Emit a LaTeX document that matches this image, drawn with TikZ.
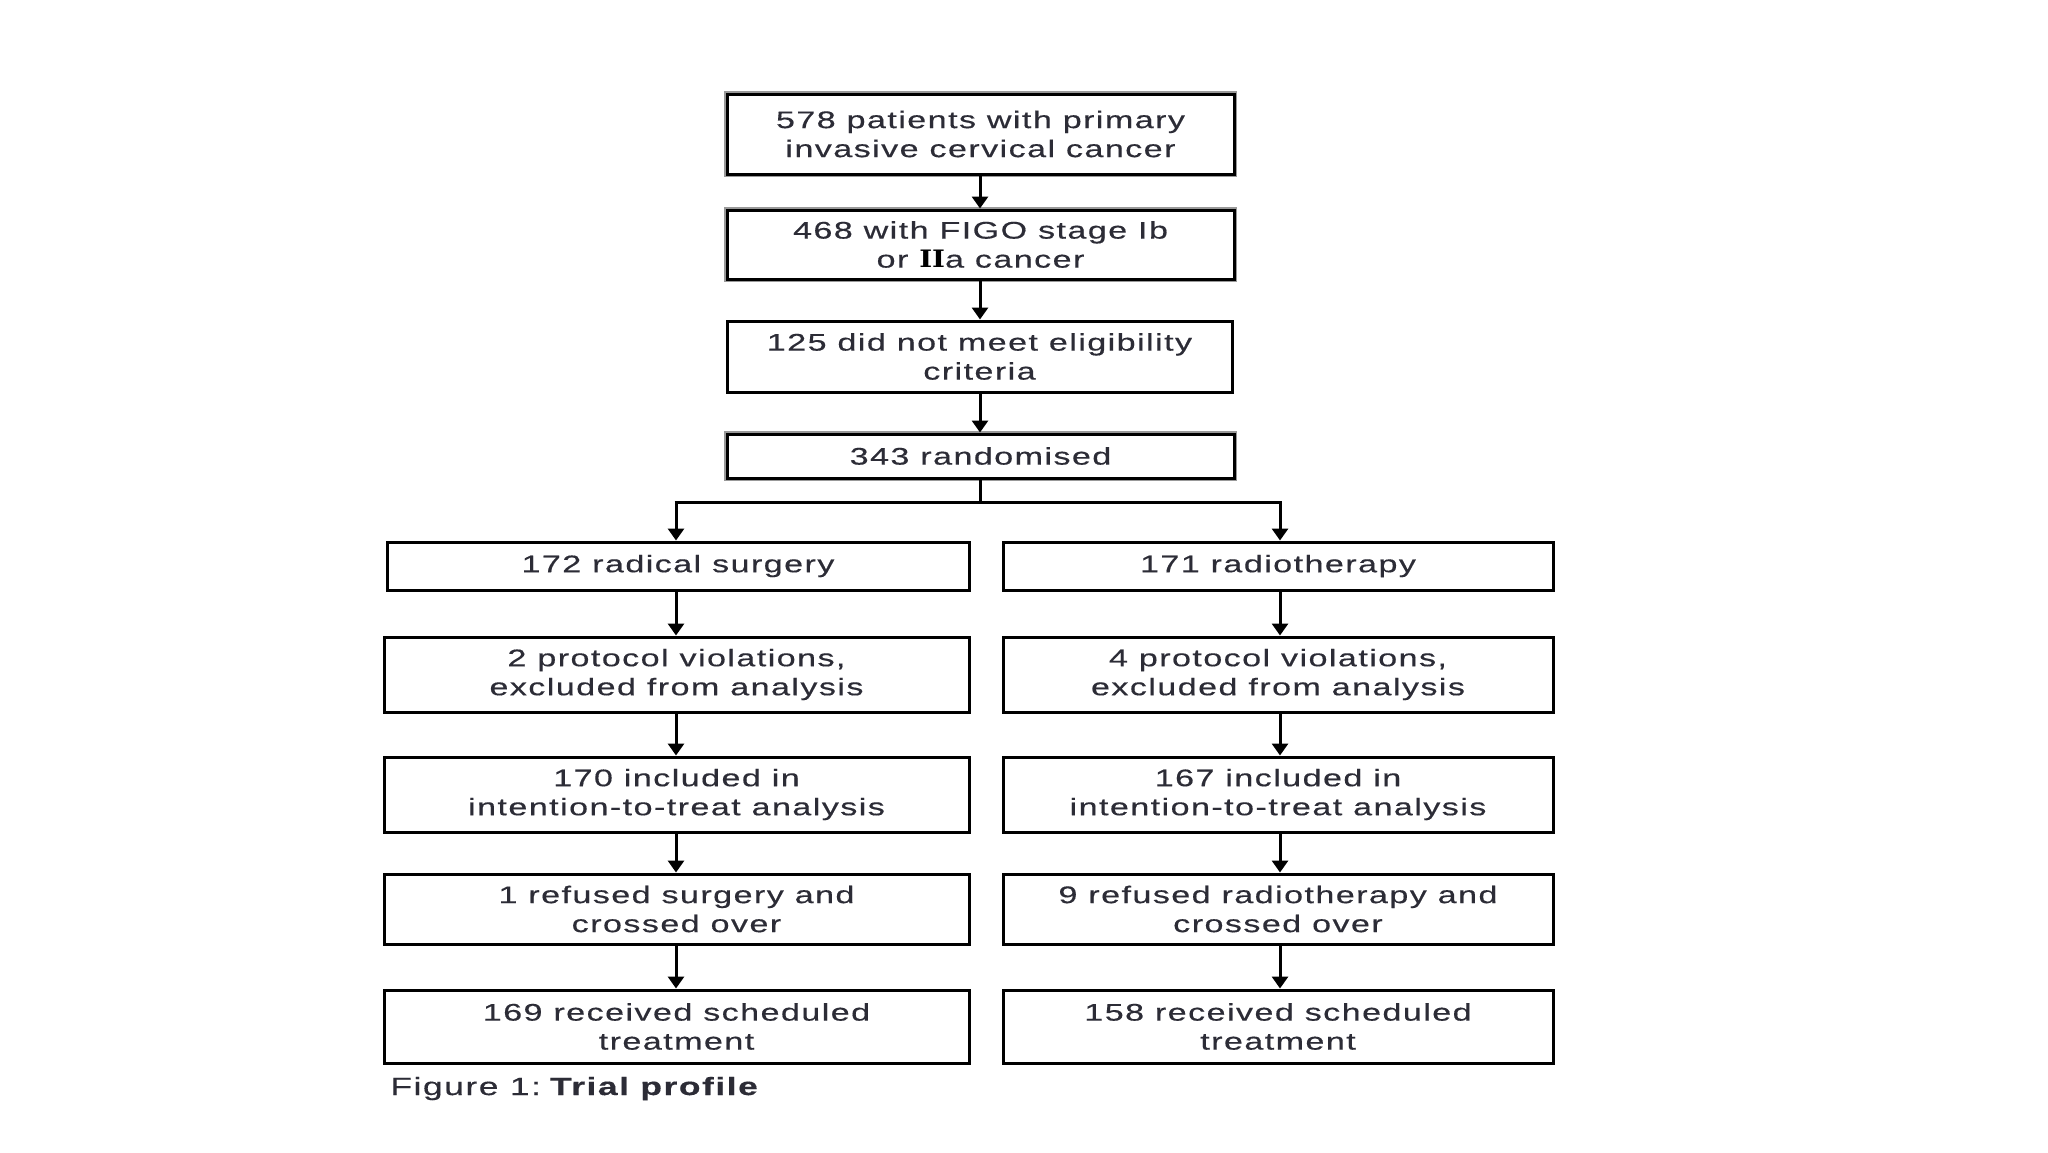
\documentclass[tikz,border=0pt]{standalone}
\usepackage{fontspec}
\setmainfont{Liberation Sans}[FakeStretch=1.42,LetterSpace=6,FakeBold=0.4]
\newfontfamily\romfont{DejaVu Serif}[FakeStretch=1.15]
\usetikzlibrary{arrows.meta}
\definecolor{txt}{HTML}{2C2C36}
\tikzset{
  box/.style={draw=black, line width=1.5pt, fill=white, inner sep=0pt, align=center,
    text=txt, font=\fontsize{12}{14.5}\selectfont},
  shadowbox/.style={box, preaction={draw=black!40, line width=3.2pt}},
  conn/.style={line width=1.5pt, -{Triangle[width=8pt,length=6pt]}},
  plain/.style={line width=1.5pt}
}
\begin{document}
\begin{tikzpicture}[x=0.5pt,y=-0.5pt]
\useasboundingbox (0,0) rectangle (2048,1152);
% top column
\node[shadowbox, minimum width=253.5pt, minimum height=40pt] (b1) at (980.5,134) {578 patients with primary\\invasive cervical cancer};
\node[shadowbox, minimum width=253.5pt, minimum height=34.5pt] (b2) at (980.5,244.5) {468 with FIGO stage Ib\\or {\romfont\bfseries\color{black}II}a cancer};
\node[box, minimum width=252.5pt, minimum height=35.5pt] (b3) at (979.5,356.5) {125 did not meet eligibility\\criteria};
\node[shadowbox, minimum width=253.5pt, minimum height=22pt] (b4) at (980.5,456) {343 randomised};
% left column
\node[box, minimum width=291pt, minimum height=24pt] (l1) at (678,566) {172 radical surgery};
\node[box, minimum width=292.5pt, minimum height=37.5pt] (l2) at (676.5,674.5) {2 protocol violations,\\excluded from analysis};
\node[box, minimum width=292.5pt, minimum height=37.5pt] (l3) at (676.5,794.5) {170 included in\\intention-to-treat analysis};
\node[box, minimum width=292.5pt, minimum height=35pt] (l4) at (676.5,909) {1 refused surgery and\\crossed over};
\node[box, minimum width=292.5pt, minimum height=36.5pt] (l5) at (676.5,1026.5) {169 received scheduled\\treatment};
% right column
\node[box, minimum width=275pt, minimum height=24pt] (r1) at (1278,566) {171 radiotherapy};
\node[box, minimum width=275pt, minimum height=37.5pt] (r2) at (1278,674.5) {4 protocol violations,\\excluded from analysis};
\node[box, minimum width=275pt, minimum height=37.5pt] (r3) at (1278,794.5) {167 included in\\intention-to-treat analysis};
\node[box, minimum width=275pt, minimum height=35pt] (r4) at (1278,909) {9 refused radiotherapy and\\crossed over};
\node[box, minimum width=275pt, minimum height=36.5pt] (r5) at (1278,1026.5) {158 received scheduled\\treatment};
% caption
\node[anchor=base west, inner sep=0pt, text=txt, font=\fontsize{12.5}{15}\selectfont] (cap) at (390,1095) {Figure 1:\hspace{0.3em}\textbf{Trial profile}};
% connector guide coordinates
\coordinate (cx) at (980,0);
\coordinate (lx) at (676,0);
\coordinate (rx) at (1280,0);
\draw[conn] (cx |- b1.south) -- (cx |- b2.north);
\draw[conn] (cx |- b2.south) -- (cx |- b3.north);
\draw[conn] (cx |- b3.south) -- (cx |- b4.north);
\coordinate (split) at (980,502);
\draw[plain] (cx |- b4.south) -- (split);
\draw[plain] ([xshift=-0.75pt]lx |- split) -- ([xshift=0.75pt]rx |- split);
\draw[conn] (lx |- split) -- (lx |- l1.north);
\draw[conn] (rx |- split) -- (rx |- r1.north);
\foreach \a/\b in {l1/l2,l2/l3,l3/l4,l4/l5}{
  \draw[conn] (lx |- \a.south) -- (lx |- \b.north);
}
\foreach \a/\b in {r1/r2,r2/r3,r3/r4,r4/r5}{
  \draw[conn] (rx |- \a.south) -- (rx |- \b.north);
}
\end{tikzpicture}
\end{document}
